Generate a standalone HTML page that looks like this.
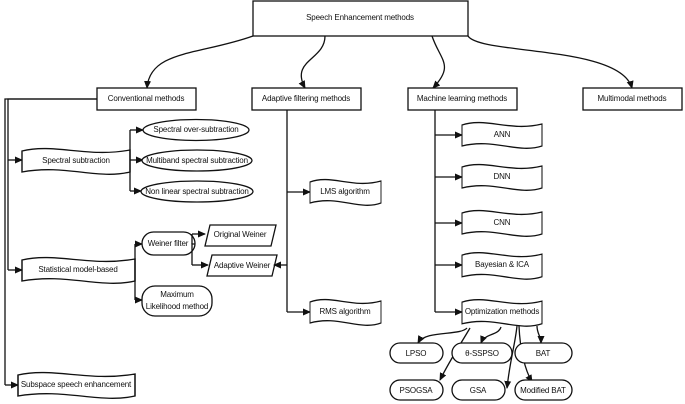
<!DOCTYPE html>
<html><head><meta charset="utf-8"><style>
html,body{margin:0;padding:0;background:#fff;}
svg{display:block;font-family:"Liberation Sans",sans-serif;}
text{font-size:8px;letter-spacing:-0.15px;text-anchor:middle;dominant-baseline:middle;fill:#111;}
.s{fill:#fff;stroke:#111;stroke-width:1.3;}
.l{fill:none;stroke:#111;stroke-width:1.3;}
</style></head><body>
<svg width="685" height="404" viewBox="0 0 685 404">
<defs>
<marker id="a" markerWidth="8" markerHeight="8" refX="7" refY="4" orient="auto" markerUnits="userSpaceOnUse"><path d="M0,0.5 L8,4 L0,7.5Z" fill="#111"/></marker>
<path id="w" d="M0,5 C30,-3 60,12 100,4 L100,26 C70,34 40,18 0,26 Z"/>
</defs>

<rect class="s" x="253" y="1" width="215" height="35"/>
<text x="360" y="18">Speech Enhancement methods</text>

<path class="l" marker-end="url(#a)" d="M253,36 C200,55 150,50 147,88"/>
<path class="l" marker-end="url(#a)" d="M325,36 C325,60 290,60 305,88"/>
<path class="l" marker-end="url(#a)" d="M432,36 C440,60 455,65 433,88"/>
<path class="l" marker-end="url(#a)" d="M468,36 C480,55 620,45 632,88"/>

<rect class="s" x="97" y="88" width="99" height="22"/><text x="146" y="99">Conventional methods</text>
<rect class="s" x="252" y="88" width="109" height="22"/><text x="306" y="99">Adaptive filtering methods</text>
<rect class="s" x="408" y="88" width="109" height="22"/><text x="462" y="99">Machine learning methods</text>
<rect class="s" x="583" y="88" width="99" height="22"/><text x="632" y="99">Multimodal methods</text>

<path class="l" d="M97,99 H5 V385"/>
<path class="l" marker-end="url(#a)" d="M5,385 H18"/>
<path class="l" d="M97,99 H8 V270"/>
<path class="l" marker-end="url(#a)" d="M8,160 H22"/>
<path class="l" marker-end="url(#a)" d="M8,270 H22"/>

<use href="#w" class="s" vector-effect="non-scaling-stroke" transform="translate(22,146) scale(1.08,1.0)"/>
<text x="76" y="161">Spectral subtraction</text>
<path class="l" d="M130,130 V191"/>
<path class="l" marker-end="url(#a)" d="M130,130 H143"/>
<path class="l" marker-end="url(#a)" d="M130,160 H143"/>
<path class="l" marker-end="url(#a)" d="M130,191 H141"/>
<ellipse class="s" cx="196" cy="130" rx="53" ry="10.5"/><text x="196" y="130">Spectral over-subtraction</text>
<ellipse class="s" cx="197" cy="160.5" rx="55" ry="10.5"/><text x="197" y="161">Multiband spectral subtraction</text>
<ellipse class="s" cx="197" cy="191.5" rx="56" ry="10.5"/><text x="197" y="192">Non linear spectral subtraction</text>

<use href="#w" class="s" vector-effect="non-scaling-stroke" transform="translate(22,255) scale(1.13,1.0)"/>
<text x="78" y="270">Statistical model-based</text>
<path class="l" d="M135,270 V244 M135,270 V300"/>
<path class="l" marker-end="url(#a)" d="M135,244 H142"/>
<path class="l" marker-end="url(#a)" d="M135,300 H142"/>
<rect class="s" x="142" y="232" width="53" height="23" rx="11.5"/><text x="168" y="244">Weiner filter</text>
<rect class="s" x="142" y="286" width="70" height="30" rx="13"/><text x="177" y="295">Maximum</text><text x="177" y="307">Likelihood method</text>
<path class="l" d="M195,244 H192 V265"/>
<path class="l" marker-end="url(#a)" d="M192,234 H205"/>
<path class="l" d="M192,234 V244"/>
<path class="l" marker-end="url(#a)" d="M192,265 H208"/>
<polygon class="s" points="210,225 276,225 271,246 205,246"/><text x="240" y="235">Original Weiner</text>
<polygon class="s" points="212,255 277,255 272,276 207,276"/><text x="242" y="266">Adaptive Weiner</text>

<path class="l" d="M287,110 V312"/>
<path class="l" marker-end="url(#a)" d="M287,265 H274"/>
<path class="l" marker-end="url(#a)" d="M287,192 H310"/>
<path class="l" marker-end="url(#a)" d="M287,312 H310"/>
<use href="#w" class="s" vector-effect="non-scaling-stroke" transform="translate(310,177) scale(0.71,1.0)"/>
<text x="345" y="192">LMS algorithm</text>
<use href="#w" class="s" vector-effect="non-scaling-stroke" transform="translate(310,297) scale(0.71,1.0)"/>
<text x="345" y="312">RMS algorithm</text>

<path class="l" d="M435,110 V312"/>
<path class="l" marker-end="url(#a)" d="M435,135 H462"/>
<path class="l" marker-end="url(#a)" d="M435,177 H462"/>
<path class="l" marker-end="url(#a)" d="M435,223 H462"/>
<path class="l" marker-end="url(#a)" d="M435,265 H462"/>
<path class="l" marker-end="url(#a)" d="M435,312 H462"/>
<use href="#w" class="s" vector-effect="non-scaling-stroke" transform="translate(462,120) scale(0.8,1.0)"/><text x="502" y="135">ANN</text>
<use href="#w" class="s" vector-effect="non-scaling-stroke" transform="translate(462,162) scale(0.8,1.0)"/><text x="502" y="177">DNN</text>
<use href="#w" class="s" vector-effect="non-scaling-stroke" transform="translate(462,208) scale(0.8,1.0)"/><text x="502" y="223">CNN</text>
<use href="#w" class="s" vector-effect="non-scaling-stroke" transform="translate(462,250) scale(0.8,1.03)"/><text x="502" y="265">Bayesian &amp; ICA</text>
<use href="#w" class="s" vector-effect="non-scaling-stroke" transform="translate(462,297) scale(0.8,1.03)"/><text x="502" y="312">Optimization methods</text>

<path class="l" marker-end="url(#a)" d="M467,328 C460,336 425,330 418,343"/>
<path class="l" marker-end="url(#a)" d="M470,328 C460,345 450,360 440,380"/>
<path class="l" marker-end="url(#a)" d="M501,327 C498,336 485,333 481,343"/>
<path class="l" marker-end="url(#a)" d="M517,326 C515,345 510,360 507,388"/>
<path class="l" marker-end="url(#a)" d="M519,326 C520,350 525,370 532,382"/>
<path class="l" marker-end="url(#a)" d="M537,326 C537,334 541,336 541,343"/>

<rect class="s" x="390" y="343" width="53" height="20" rx="10"/><text x="416" y="354">LPSO</text>
<rect class="s" x="452" y="343" width="60" height="20" rx="10"/><text x="482" y="354">θ-SSPSO</text>
<rect class="s" x="515" y="343" width="57" height="20" rx="10"/><text x="543" y="354">BAT</text>
<rect class="s" x="390" y="380" width="53" height="20" rx="10"/><text x="416" y="391">PSOGSA</text>
<rect class="s" x="452" y="380" width="53" height="20" rx="10"/><text x="478" y="391">GSA</text>
<rect class="s" x="515" y="380" width="57" height="20" rx="10"/><text x="543" y="391">Modified BAT</text>

<use href="#w" class="s" vector-effect="non-scaling-stroke" transform="translate(18,370) scale(1.17,1.0)"/>
<text x="76" y="385">Subspace speech enhancement</text>
</svg>
</body></html>
